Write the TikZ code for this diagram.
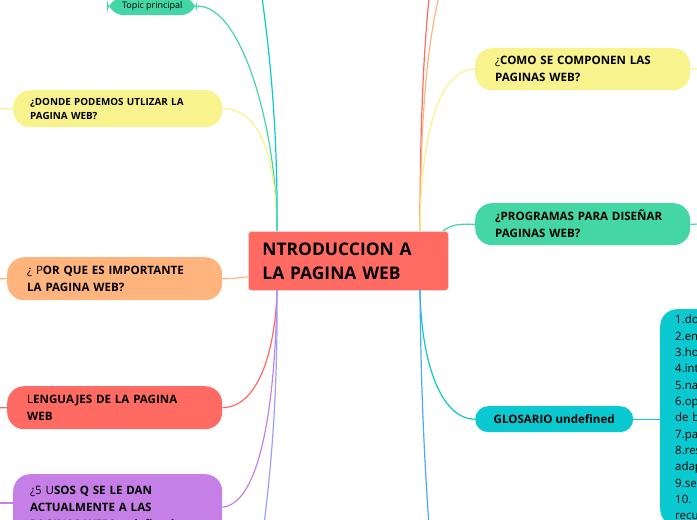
\documentclass[tikz,border=0pt]{standalone}
\usepackage{fontspec}
\setmainfont{Open Sans}
\definecolor{cred}{HTML}{FF6B62}
\definecolor{cyel}{HTML}{F8F38D}
\definecolor{cgrn}{HTML}{44D6A5}
\definecolor{corg}{HTML}{FFB47E}
\definecolor{ccya}{HTML}{0BC9D1}
\definecolor{cpur}{HTML}{C77FE8}
\definecolor{cblu}{HTML}{4DA8FF}
\definecolor{cvio}{HTML}{9E9EFF}
\definecolor{cbord}{HTML}{F4CFCF}
\begin{document}
\begin{tikzpicture}[x=1bp,y=-1bp,
  pill/.style={rounded corners=17bp, inner ysep=0pt, align=left, anchor=north west, text=black},
  big/.style={pill, font=\fontsize{11.6}{17}\selectfont\bfseries, inner xsep=20bp},
  small/.style={pill, font=\fontsize{9.9}{14}\selectfont\bfseries, inner xsep=17bp},
  link/.style={line width=1.2bp}]
\useasboundingbox (0,0) rectangle (697,520);
\clip (0,0) rectangle (697,520);

% central node
\node[fill=cred, draw=cbord, line width=0.8bp, rounded corners=3bp, anchor=north west,
  minimum width=200bp, minimum height=59bp, text width=172bp, inner xsep=14bp, align=left,
  font=\fontsize{17.5}{24}\selectfont\bfseries] (c) at (248,231) {NTRODUCCION A\\LA PAGINA WEB};

% coordinates where the links meet the central node
\coordinate (cTL) at (277,231);
\coordinate (cBL) at (277,290);
\coordinate (cTR) at (420,231);
\coordinate (cBR) at (420,290);
\coordinate (cPG) at (443,231);
\coordinate (cOR) at (248,277);

% left nodes
\node[pill, fill=cgrn, minimum width=90bp, minimum height=18bp, inner xsep=0pt, align=center,
  font=\fontsize{9}{10}\selectfont] (tp) at (107,-3) {\makebox[90bp]{Topic principal}};
\node[small, fill=cyel, minimum height=37bp, text width=175bp] (donde) at (13,90)
  {¿DONDE PODEMOS UTLIZAR LA\\PAGINA WEB?};
\node[big, fill=corg, minimum height=43bp, text width=175bp] (porque) at (7,257)
  {{\mdseries ¿ P}OR QUE ES IMPORTANTE\\LA PAGINA WEB?};
\node[big, fill=cred, minimum height=43bp, text width=175bp] (leng) at (7,386)
  {{\mdseries L}ENGUAJES DE LA PAGINA\\WEB};
\node[big, fill=cpur, minimum height=66bp, text width=175bp, inner xsep=17bp] (usos) at (13,474)
  {{\mdseries ¿5 U}SOS Q SE LE DAN\\ACTUALMENTE A LAS\\PAGINAS WEB?undefined};

% right nodes
\node[big, fill=cyel, minimum height=42bp, text width=175bp] (como) at (475,48)
  {{\mdseries ¿}COMO SE COMPONEN LAS\\PAGINAS WEB?};
\node[big, fill=cgrn, minimum height=42bp, text width=175bp] (prog) at (475,203)
  {¿PROGRAMAS PARA DISEÑAR\\PAGINAS WEB?};
\node[pill, fill=ccya, minimum height=26bp, minimum width=158bp, inner xsep=0pt, align=center,
  font=\fontsize{11.6}{13}\selectfont\bfseries, rounded corners=13bp] (glos) at (475,406)
  {\makebox[158bp]{GLOSARIO undefined}};
\node[pill, fill=ccya, text width=150bp, inner xsep=15bp, inner ysep=6bp,
  font=\fontsize{11.5}{16.4}\selectfont] (lista) at (660,309)
  {1.dominio\\2.enlace\\3.hosting\\4.internet\\5.navegador\\6.operadores\\de búsqueda\\7.pagina web\\8.responsive\\adaptable\\9.servidor\\10. URL\\recurso\\ };

% free ends
\coordinate (eCy) at (261,-10);
\coordinate (eVi) at (262,540);
\coordinate (eRd) at (431,-20);
\coordinate (eOr) at (446,-30);
\coordinate (eBl) at (430,540);
\coordinate (eComo) at (710,69);
\coordinate (eProg) at (710,224);
\coordinate (eDonde) at (-10,108);
\coordinate (ePorque) at (-10,279);
\coordinate (eLeng) at (-10,408);
\coordinate (eUsos) at (-10,503);

% links, left side
\draw[link, cgrn] (tp.east) .. controls (242,5) and (277,130) .. (cTL);
\draw[link, cyel] (donde.east) .. controls (257,108) and (276,150) .. (cTL);
\draw[link, ccya] (cTL) .. controls (278,120) and (268,40) .. (eCy);
\draw[link, corg] (porque.east) .. controls (235,279) and (240,277) .. (cOR);
\draw[link, cred] (leng.east) .. controls (262,407) and (276,340) .. (cBL);
\draw[link, cpur] (usos.east) .. controls (265,503) and (276,380) .. (cBL);
\draw[link, cvio] (cBL) .. controls (278,400) and (270,480) .. (eVi);

% links, right side
\draw[link, cred] (cTR) .. controls (420,120) and (424,40) .. (eRd);
\draw[link, corg] (cTR) .. controls (421,100) and (428,30) .. (eOr);
\draw[link, cyel] (cTR) .. controls (421,130) and (440,69) .. (como.west);
\draw[link, cgrn] (cPG) .. controls (452,224) and (460,224) .. (prog.west);
\draw[link, ccya] (cBR) .. controls (421,360) and (440,419) .. (glos.west);
\draw[link, cblu] (cBR) .. controls (421,400) and (425,470) .. (eBl);

% continuation links
\draw[link, cyel] (como.east) -- (eComo);
\draw[link, cgrn] (prog.east) -- (eProg);
\draw[link, ccya] (glos.east) -- (lista.west |- glos.east);
\draw[link, cyel] (donde.west) -- (eDonde);
\draw[link, corg] (porque.west) -- (ePorque);
\draw[link, cred] (leng.west) -- (eLeng);
\draw[link, cpur] (usos.west |- eUsos) -- (eUsos);
\end{tikzpicture}
\end{document}
